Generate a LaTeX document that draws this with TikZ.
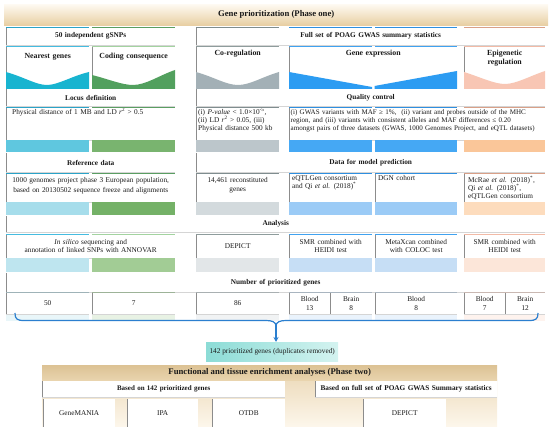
\documentclass[tikz,border=0pt]{standalone}
\usepackage{fontspec}
\setmainfont{Liberation Serif}
\usetikzlibrary{arrows.meta}
\definecolor{tealW}{HTML}{18B4D0}
\definecolor{greenW}{HTML}{52A05E}
\definecolor{grayW}{HTML}{A3B0B6}
\definecolor{blueW}{HTML}{2C9CF2}
\definecolor{salmonW}{HTML}{F8C6B4}
\definecolor{tealT}{HTML}{2AA3C8}
\definecolor{greenT}{HTML}{5A9E62}
\definecolor{grayT}{HTML}{7F8D8F}
\definecolor{blueT}{HTML}{2E8FE0}
\definecolor{salmonT}{HTML}{D9A088}
\definecolor{tealL}{HTML}{45BCE0}
\definecolor{greenL}{HTML}{A3D3A0}
\definecolor{grayL}{HTML}{8E9C9C}
\definecolor{blueL}{HTML}{40A2F0}
\definecolor{salmonL}{HTML}{F2BAA6}
\definecolor{tealN}{HTML}{9FB3B8}
\definecolor{greenN}{HTML}{9DB398}
\definecolor{grayN}{HTML}{A9B0B2}
\definecolor{blueN}{HTML}{A9B5C0}
\definecolor{salmonN}{HTML}{C9B8B2}
\definecolor{tealB1}{HTML}{5FC7DF}
\definecolor{greenB1}{HTML}{79B46F}
\definecolor{grayB1}{HTML}{BCC6CB}
\definecolor{blueB1}{HTML}{45A8F4}
\definecolor{peachB1}{HTML}{FAC699}
\definecolor{tealB2}{HTML}{A6DDEB}
\definecolor{greenB2}{HTML}{74B167}
\definecolor{grayB2}{HTML}{D3DADD}
\definecolor{blueB2}{HTML}{9BCBF6}
\definecolor{peachB2}{HTML}{FDDCBD}
\definecolor{tealB3}{HTML}{BEE5EF}
\definecolor{greenB3}{HTML}{A2CC95}
\definecolor{grayB3}{HTML}{E2E6E8}
\definecolor{blueB3}{HTML}{C6DEF5}
\definecolor{peachB3}{HTML}{FCE6D9}
\definecolor{tealB4}{HTML}{E9F6F9}
\definecolor{greenB4}{HTML}{E8F2E4}
\definecolor{grayB4}{HTML}{F1F3F4}
\definecolor{blueB4}{HTML}{EAF3FC}
\definecolor{peachB4}{HTML}{FEF3EE}
\definecolor{shadeA}{HTML}{8C8C8C}
\definecolor{shadeB}{HTML}{D5D5D5}
\definecolor{txt}{HTML}{1A1A1A}
\definecolor{braceblue}{HTML}{2B7FCF}
\definecolor{banTop}{HTML}{FEFAF2}
\definecolor{banBot}{HTML}{E8CFA3}
\definecolor{banTwoTop}{HTML}{DCC294}
\definecolor{banTwoBot}{HTML}{E9D4AE}
\definecolor{bgTop}{HTML}{EEDDBF}
\definecolor{bgBot}{HTML}{FDF7EC}
\definecolor{aquaL}{HTML}{8CDCD6}
\definecolor{aquaR}{HTML}{D4F3F0}
\newcommand\colbars[3]{%
 \fill[teal#3] (6,#1) rectangle (89,#2); \fill[green#3] (92,#1) rectangle (175,#2);
 \fill[gray#3] (196,#1) rectangle (279,#2); \fill[blue#3] (289,#1) rectangle (372,#2);
 \fill[blue#3] (375,#1) rectangle (457,#2); \fill[peach#3] (464,#1) rectangle (545,#2);}
\newcommand\toplines[2]{%
 \draw[tl,teal#2] (6,#1) -- (89,#1); \draw[tl,green#2] (92,#1) -- (175,#1);
 \draw[tl,gray#2] (196,#1) -- (279,#1); \draw[tl,blue#2] (289,#1) -- (372,#1);
 \draw[tl,blue#2] (375,#1) -- (457,#1); \draw[tl,salmon#2] (464,#1) -- (545,#1);}
\begin{document}
\begin{tikzpicture}[x=1pt,y=-1pt,
  panel/.style={fill=white, anchor=north west, inner xsep=3pt, inner ysep=1.5pt, text=txt,
    path picture={\draw[shadeA, line width=1.6pt] (path picture bounding box.north west) -- (path picture bounding box.south west);
                  \draw[shadeB, line width=1pt] (path picture bounding box.south west) -- (path picture bounding box.south east);}},
  hd/.style={panel, font=\fontsize{7.3}{8.5}\selectfont\bfseries, align=center},
  colhd/.style={panel, font=\fontsize{7.8}{9}\selectfont\bfseries, align=center},
  txtl/.style={panel, font=\fontsize{7.3}{8}\selectfont, align=left},
  txtc/.style={panel, font=\fontsize{7.3}{8}\selectfont, align=center},
  tl/.style={line width=1.3pt},
  brace/.style={draw=braceblue, line width=1.2pt},
  banner/.style={anchor=north west, inner sep=0pt, text=txt, font=\fontsize{8.7}{10}\selectfont\bfseries}]
\useasboundingbox (0,0) rectangle (550,427);

% title banner
\node[banner, top color=banTop, bottom color=banBot, minimum width=544pt, minimum height=21pt] (title) at (4,4) {Gene prioritization (Phase one)};

% row 1
\node[hd, minimum height=18pt, text width=163pt] (gsnp) at (6,27) {50 independent gSNPs};
\node[hd, minimum height=18pt, text width=343pt] (fullset) at (196,27) {Full set of POAG GWAS summary statistics};

% row 2 column headers
\node[colhd, text width=77pt, text height=11pt, text depth=29pt] (hA) at (6,46) {Nearest genes};
\node[colhd, text width=77pt, text height=11pt, text depth=29pt] (hB) at (92,46) {Coding consequence};
\node[colhd, text width=77pt, text height=8pt, text depth=32pt] (hC) at (196,46) {Co-regulation};
\node[colhd, text width=162pt, text height=8pt, text depth=32pt] (hD) at (289,46) {Gene expression};
\node[colhd, text width=75pt, text height=8pt, text depth=32pt] (hE) at (464,46) {Epigenetic\\regulation};

\fill[tealW] (6,72) .. controls (24,77) and (36,85) .. (47,85) .. controls (58,85) and (72,76) .. (89,72) -- (89,89) -- (6,89) -- cycle;
\fill[greenW] (92,75) .. controls (108,79) and (122,85) .. (133,85) .. controls (146,85) and (160,75) .. (175,70) -- (175,89) -- (92,89) -- cycle;
\fill[grayW] (196,72) .. controls (214,77) and (226,85) .. (238,85) .. controls (250,85) and (262,77) .. (279,72) -- (279,89) -- (196,89) -- cycle;
\fill[blueW] (289,72) -- (372,87) -- (372,89) -- (289,89) -- cycle;
\fill[blueW] (374.5,86) -- (457,71) -- (457,89) -- (374.5,89) -- cycle;
\fill[salmonW] (464,72) .. controls (480,77) and (494,84) .. (505,84) .. controls (516,84) and (530,76) .. (545,71) -- (545,89) -- (464,89) -- cycle;

% row 3
\node[hd, minimum height=17pt, text width=163pt] (locus) at (6,89) {Locus definition};
\node[hd, minimum height=17pt, text width=343pt] (qc) at (196,89) {Quality control};

% row 4
\node[txtl, inner xsep=6pt, text width=157pt, text height=6pt, text depth=24pt] (phys) at (6,107) {Physical distance of 1 MB and LD \textit{r}\textsuperscript{2} > 0.5};
\node[txtl, inner xsep=2pt, text width=79pt, text height=6pt, text depth=24pt] (coregt) at (196,107) {(i) \textit{P-value} < 1.0×10\textsuperscript{-5},\\(ii) LD \textit{r}\textsuperscript{2} > 0.05, (iii)\\Physical distance 500 kb};
\node[txtl, font=\fontsize{7.05}{8}\selectfont, inner xsep=1.5pt, text width=253pt, text height=6pt, text depth=24pt] (qct) at (289,107) {(i) GWAS variants with MAF ≥ 1\%,~ (ii) variant and probes outside of the MHC\\region, and (iii) variants with consistent alleles and MAF differences ≤ 0.20\\amongst pairs of three datasets (GWAS, 1000 Genomes Project, and eQTL datasets)};

\colbars{140}{152}{B1}

% row 5
\node[hd, minimum height=19pt, text width=163pt] (ref) at (6,153) {Reference data};
\node[hd, minimum height=19pt, text width=343pt] (dmp) at (196,153) {Data for model prediction};

% row 6
\node[txtc, font=\fontsize{7.3}{10}\selectfont, text width=163pt, text height=8pt, text depth=18pt] (refc) at (6,173) {1000 genomes project phase 3 European population,\\based on 20130502 sequence freeze and alignments};
\node[txtc, font=\fontsize{7.3}{9}\selectfont, text width=77pt, text height=8pt, text depth=18pt] (rc) at (196,173) {14,461 reconstituted\\genes};
\node[txtl, text width=77pt, text height=6pt, text depth=20pt] (eqtlgen) at (289,173) {eQTLGen consortium\\and Qi \textit{et al.} (2018)\textsuperscript{*}};
\node[txtl, text width=76pt, text height=6pt, text depth=20pt] (dgn) at (375,173) {DGN cohort};
\node[txtl, inner xsep=4pt, text width=73pt, text height=8pt, text depth=18pt] (mcrae) at (464,173) {McRae \textit{et al.} (2018)\textsuperscript{*},\\Qi \textit{et al.} (2018)\textsuperscript{*},\\eQTLGen consortium};

\colbars{202}{215}{B2}

% row 7
\node[hd, minimum height=16pt, text width=533pt] (analysis) at (6,216) {Analysis};

% row 8
\node[txtc, minimum height=24pt, text width=163pt] (insilico) at (6,234) {\textit{In silico} sequencing and\\annotation of linked SNPs with ANNOVAR};
\node[txtc, minimum height=24pt, text width=77pt] (depictA) at (196,234) {DEPICT};
\node[txtc, minimum height=24pt, text width=77pt] (smrA) at (289,234) {SMR combined with\\HEIDI test};
\node[txtc, minimum height=24pt, text width=76pt] (metax) at (375,234) {MetaXcan combined\\with COLOC test};
\node[txtc, minimum height=24pt, text width=75pt] (smrB) at (464,234) {SMR combined with\\HEIDI test};

\colbars{258}{272}{B3}

% row 9
\node[hd, minimum height=19pt, text width=533pt] (numhd) at (6,273) {Number of prioritized genes};

% row 10
\colbars{314}{321}{B4}
\node[txtc, minimum height=22pt, text width=77pt] (nA) at (6,292) {50};
\node[txtc, minimum height=22pt, text width=77pt] (nB) at (92,292) {7};
\node[txtc, minimum height=22pt, text width=77pt] (nC) at (196,292) {86};
\node[txtc, font=\fontsize{7.3}{9}\selectfont, minimum height=22pt, text width=35pt] (blA) at (289,292) {Blood\\13};
\node[txtc, font=\fontsize{7.3}{9}\selectfont, minimum height=22pt, text width=36pt] (brA) at (330,292) {Brain\\8};
\node[txtc, font=\fontsize{7.3}{9}\selectfont, minimum height=22pt, text width=76pt] (blB) at (375,292) {Blood\\8};
\node[txtc, font=\fontsize{7.3}{9}\selectfont, minimum height=22pt, text width=35pt] (blC) at (464,292) {Blood\\7};
\node[txtc, font=\fontsize{7.3}{9}\selectfont, minimum height=22pt, text width=34pt] (brB) at (505,292) {Brain\\12};

% top colour lines
\toplines{27.7}{T}
\toplines{46.7}{L}
\toplines{107.7}{T}
\toplines{173.7}{T}
\toplines{234.7}{L}
\toplines{292.7}{N}

% 142 box
\node[anchor=north west, left color=aquaL, right color=aquaR, minimum width=132pt, minimum height=19pt, inner sep=0pt, text=txt, font=\fontsize{7.3}{8}\selectfont] (nall) at (206,342) {142 prioritized genes (duplicates removed)};

% brace
\coordinate (bL) at (15,313);
\coordinate (bR) at (538,313);
\draw[brace] (bL) .. controls (15,319) and (17,320.5) .. (24,320.5) -- (266,320.5) .. controls (272,320.5) and (276,322) .. (276,326);
\draw[brace] (bR) .. controls (538,319) and (536,320.5) .. (529,320.5) -- (286,320.5) .. controls (280,320.5) and (276,322) .. (276,326);
\draw[brace, -{Stealth[length=5pt,width=5pt]}] (276,325) -- (276,0 |- nall.north);

% phase two
\shade[top color=bgTop, bottom color=bgBot] (42,380) rectangle (497,427);
\node[banner, top color=banTwoTop, bottom color=banTwoBot, minimum width=455pt, minimum height=15pt] (phase) at (42,365) {Functional and tissue enrichment analyses (Phase two)};
\node[hd, font=\fontsize{7}{8}\selectfont\bfseries, minimum height=16pt, text width=237pt] (bA) at (42,381) {Based on 142 prioritized genes};
\node[hd, minimum height=16pt, text width=176pt] (bB) at (315,381) {Based on full set of POAG GWAS Summary statistics};
\node[txtc, minimum height=28pt, text width=66pt] (gm) at (43,399) {GeneMANIA};
\node[txtc, minimum height=28pt, text width=65pt] (ipa) at (127,399) {IPA};
\node[txtc, minimum height=28pt, text width=67pt] (otdb) at (212,399) {OTDB};
\node[txtc, minimum height=28pt, text width=77pt] (depictB) at (363,399) {DEPICT};
\end{tikzpicture}
\end{document}
